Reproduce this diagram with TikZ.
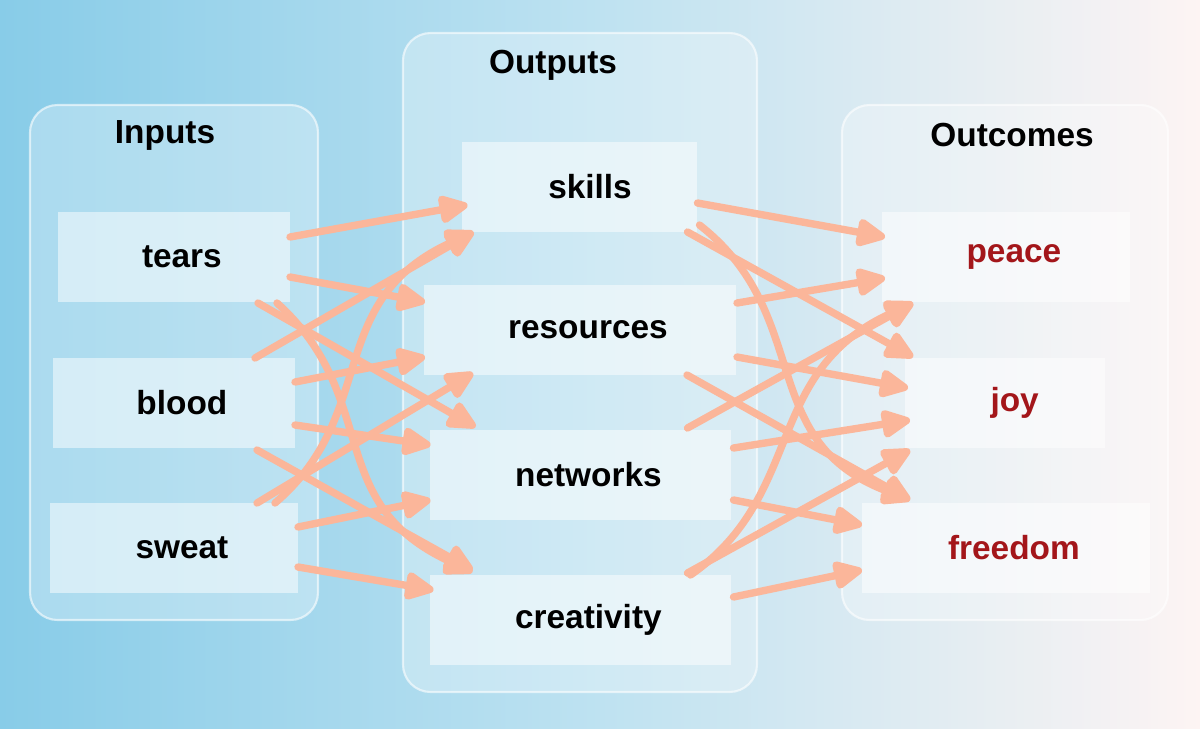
\documentclass[tikz,border=0pt]{standalone}
\usepackage{fontspec}
\setmainfont{Liberation Sans}
\usetikzlibrary{arrows.meta,calc}
\definecolor{arr}{HTML}{FBB69A}
\definecolor{bgl}{HTML}{88CCE8}
\definecolor{bgm}{HTML}{BEE2F1}
\definecolor{bgr}{HTML}{FDF4F3}
\definecolor{outc}{HTML}{A3161A}
\begin{document}
\begin{tikzpicture}[x=0.02cm,y=-0.02cm,
  grp/.style={draw=white,draw opacity=0.6,line width=1.2pt,fill=white,fill opacity=0.28,rounded corners=0.55cm},
  box/.style={fill=white,fill opacity=0.5,text opacity=1,inner sep=0pt,font=\fontsize{19}{21}\selectfont\bfseries},
  ttl/.style={font=\fontsize{19}{21}\selectfont\bfseries},
  ar/.style={draw=arr,line width=4.2pt,line cap=round,-{Triangle[length=19pt,width=17pt,round]}}]
\useasboundingbox (0,0) rectangle (1200,728);
\shade[left color=bgl,right color=bgr,middle color=bgm] (0,0) rectangle (1200,728);
\draw[grp] (30,105) rectangle (318,620);
\draw[grp] (403,33) rectangle (757,692);
\draw[grp] (842,105) rectangle (1168,620);
\node[ttl] (tin) at (165,135) {Inputs};
\node[ttl] (tout) at (553,65) {Outputs};
\node[ttl] (tres) at (1012,135) {Outcomes};
\node[box,minimum width=4.64cm,minimum height=1.8cm] (tears) at (174,257) {\hspace{9pt}tears};
\node[box,minimum width=4.84cm,minimum height=1.8cm] (blood) at (174,403) {\hspace{9pt}blood};
\node[box,minimum width=4.96cm,minimum height=1.8cm] (sweat) at (174,548) {\hspace{9pt}sweat};
\node[box,minimum width=4.7cm,minimum height=1.8cm] (skills) at (579.5,187) {\hspace{12pt}skills};
\node[box,minimum width=6.24cm,minimum height=1.8cm] (resources) at (580,330) {\hspace{9pt}resources};
\node[box,minimum width=6.02cm,minimum height=1.8cm] (networks) at (580.5,475) {\hspace{9pt}networks};
\node[box,minimum width=6.02cm,minimum height=1.8cm] (creativity) at (580.5,620) {\hspace{9pt}creativity};
\node[box,minimum width=4.96cm,minimum height=1.8cm,text=outc] (peace) at (1006,257) {\hspace{9pt}peace};
\node[box,minimum width=4.0cm,minimum height=1.8cm,text=outc] (joy) at (1005,403) {\hspace{11pt}joy};
\node[box,minimum width=5.76cm,minimum height=1.8cm,text=outc] (freedom) at (1006,548) {\hspace{9pt}freedom};
\newcommand\ed[4]{\draw[ar] ($(#1)+(#2)$) -- ($(#3)+(#4)$);}
% inputs -> outputs
\ed{tears}{116,-20}{skills}{-112,18}
\ed{tears}{116,20}{resources}{-155,-28}
\ed{tears}{84,46}{networks}{-105,-48}
\draw[ar] ($(tears)+(103,46)$) .. controls +(105,95) and +(-150,-70) .. ($(creativity)+(-108,-48)$);
\ed{blood}{81,-45}{skills}{-106,45}
\ed{blood}{121,-21}{resources}{-155,27}
\ed{blood}{121,22}{networks}{-150,-30}
\ed{blood}{83,47}{creativity}{-108,-50}
\draw[ar] ($(sweat)+(101,-45)$) .. controls +(105,-90) and +(-150,70) .. ($(skills)+(-106,45)$);
\ed{sweat}{83,-45}{resources}{-107,43}
\ed{sweat}{124,-21}{networks}{-150,25}
\ed{sweat}{124,19}{creativity}{-147,-30}
% outputs -> outcomes
\ed{skills}{118,16}{peace}{-121,-20}
\ed{skills}{108,45}{joy}{-92,-46}
\draw[ar] ($(skills)+(120,38)$) .. controls +(115,90) and +(-155,-60) .. ($(freedom)+(-96,-48)$);
\ed{resources}{157,-27}{peace}{-121,21}
\ed{resources}{157,27}{joy}{-97,-15}
\ed{resources}{107,45}{freedom}{-96,-48}
\ed{networks}{107,-47}{peace}{-93,46}
\ed{networks}{153,-27}{joy}{-95,17}
\ed{networks}{153,25}{freedom}{-144,-23}
\draw[ar] ($(creativity)+(110,-45)$) .. controls +(115,-80) and +(-150,70) .. ($(peace)+(-93,46)$);
\ed{creativity}{107,-47}{joy}{-95,47}
\ed{creativity}{153,-23}{freedom}{-144,22}
\end{tikzpicture}
\end{document}
